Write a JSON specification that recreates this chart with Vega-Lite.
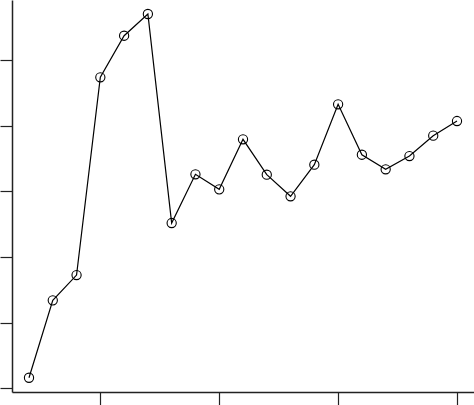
{
  "$schema": "https://vega.github.io/schema/vega-lite/v6.json",
  "width": 462,
  "height": 392,
  "autosize": {"type": "none"},
  "padding": {"left": 12, "top": 0, "right": 0, "bottom": 13},
  "background": "white",
  "data": {
    "values": [
      {"year": 2002, "value": 11.61},
      {"year": 2003, "value": 23.40},
      {"year": 2004, "value": 27.25},
      {"year": 2005, "value": 57.36},
      {"year": 2006, "value": 63.69},
      {"year": 2007, "value": 67.00},
      {"year": 2008, "value": 35.17},
      {"year": 2009, "value": 42.59},
      {"year": 2010, "value": 40.30},
      {"year": 2011, "value": 47.92},
      {"year": 2012, "value": 42.53},
      {"year": 2013, "value": 39.24},
      {"year": 2014, "value": 44.05},
      {"year": 2015, "value": 53.25},
      {"year": 2016, "value": 45.57},
      {"year": 2017, "value": 43.35},
      {"year": 2018, "value": 45.37},
      {"year": 2019, "value": 48.47},
      {"year": 2020, "value": 50.70}
    ]
  },
  "encoding": {
    "x": {
      "field": "year",
      "type": "quantitative",
      "scale": {"domain": [2001.285, 2020.715], "nice": false, "zero": false},
      "axis": {
        "values": [2005, 2010, 2015, 2020],
        "labels": false,
        "title": null,
        "grid": false,
        "tickSize": 13,
        "tickColor": "#222",
        "domainColor": "#222",
        "domainWidth": 1.5,
        "tickWidth": 1.2
      }
    },
    "y": {
      "field": "value",
      "type": "quantitative",
      "scale": {"domain": [9.44, 69.13], "nice": false, "zero": false},
      "axis": {
        "values": [10, 20, 30, 40, 50, 60],
        "labels": false,
        "title": null,
        "grid": false,
        "tickSize": 12,
        "tickColor": "#222",
        "domainColor": "#222",
        "domainWidth": 1.5,
        "tickWidth": 1.2
      }
    }
  },
  "layer": [
    {"mark": {"type": "line", "color": "black", "strokeWidth": 1.2}},
    {"mark": {"type": "point", "shape": "circle", "size": 85, "filled": false, "stroke": "black", "strokeWidth": 1.1, "opacity": 1}}
  ],
  "config": {"view": {"stroke": null}}
}
